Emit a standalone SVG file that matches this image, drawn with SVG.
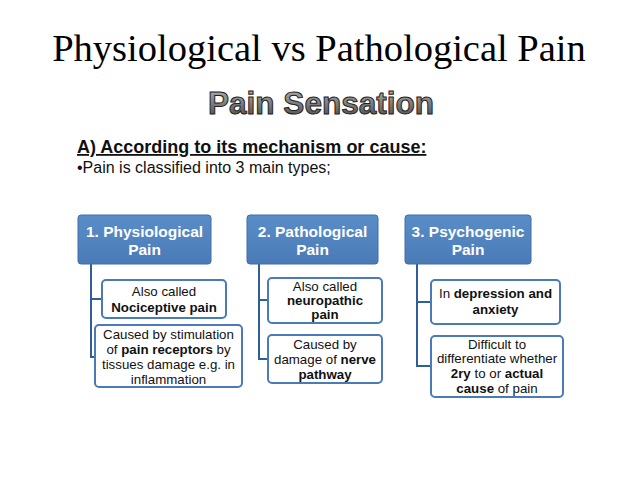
<svg xmlns="http://www.w3.org/2000/svg" width="638" height="478" viewBox="0 0 638 478">
<defs>
<linearGradient id="g" x1="0" y1="0" x2="0" y2="1"><stop offset="0" stop-color="#bbb"/><stop offset="1" stop-color="#444"/></linearGradient>
<linearGradient id="b" x1="0" y1="0" x2="0" y2="1"><stop offset="0" stop-color="#5a8dc8"/><stop offset="1" stop-color="#4a7bb7"/></linearGradient>
</defs>
<style>
.h{fill:url(#b);stroke:#3f6fa8;stroke-width:1}
.ht{font-family:"Liberation Sans",Arial,sans-serif;font-size:15.5px;font-weight:bold;fill:#fff;text-anchor:middle}
.c{fill:#fff;stroke:#4a7bb7;stroke-width:2}
.ct{font-family:"Liberation Sans",Arial,sans-serif;font-size:13.3px;fill:#111;text-anchor:middle}
.ln{fill:none;stroke:#2f5f96;stroke-width:2}
</style>
<rect width="638" height="478" fill="#fff"/>
<text x="319" y="61" font-family="'Liberation Serif',serif" font-size="38.5" text-anchor="middle">Physiological vs Pathological Pain</text>
<text x="321" y="114" font-family="'Liberation Sans',Arial,sans-serif" font-size="31.5" font-weight="bold" text-anchor="middle" fill="url(#g)" stroke="#222" stroke-width="1">Pain Sensation</text>
<text x="77" y="153" font-family="'Liberation Sans',Arial,sans-serif" font-size="18" font-weight="bold" text-decoration="underline" fill="#111">A) According to its mechanism or cause:</text>
<text x="77" y="173" font-family="'Liberation Sans',Arial,sans-serif" font-size="16" fill="#111">•Pain is classified into 3 main types;</text>
<g id="connectors">
<path class="ln" d="M91 264V357H95M91 299H102"/>
<path class="ln" d="M259 264V359H268M259 300H268"/>
<path class="ln" d="M417 264V366H431M417 302H431"/>
</g>
<g id="n1"><rect class="h" x="78" y="215" width="133" height="49" rx="3"/><text class="ht" x="144.5" y="237">1. Physiological</text><text class="ht" x="144.5" y="255">Pain</text></g>
<g id="n2"><rect class="h" x="247" y="215" width="131" height="49" rx="3"/><text class="ht" x="312.5" y="237">2. Pathological</text><text class="ht" x="312.5" y="255">Pain</text></g>
<g id="n3"><rect class="h" x="405" y="215" width="126" height="49" rx="3"/><text class="ht" x="468" y="237">3. Psychogenic</text><text class="ht" x="468" y="255">Pain</text></g>
<g id="n1a"><rect class="c" x="102" y="280" width="124" height="38" rx="4"/><text class="ct" x="164" y="296">Also called</text><text class="ct" x="164" y="312" font-weight="bold">Nociceptive pain</text></g>
<g id="n1b"><rect class="c" x="95" y="325" width="147" height="62" rx="4"/><text class="ct" x="168.5" y="339">Caused by stimulation</text><text class="ct" x="168.5" y="354">of <tspan font-weight="bold">pain receptors</tspan> by</text><text class="ct" x="168.5" y="369">tissues damage e.g. in</text><text class="ct" x="168.5" y="384">inflammation</text></g>
<g id="n2a"><rect class="c" x="268" y="278" width="114" height="45" rx="4"/><text class="ct" x="325" y="291">Also called</text><text class="ct" x="325" y="305" font-weight="bold">neuropathic</text><text class="ct" x="325" y="319" font-weight="bold">pain</text></g>
<g id="n2b"><rect class="c" x="268" y="335" width="114" height="48" rx="4"/><text class="ct" x="325" y="349">Caused by</text><text class="ct" x="325" y="364">damage of <tspan font-weight="bold">nerve</tspan></text><text class="ct" x="325" y="379" font-weight="bold">pathway</text></g>
<g id="n3a"><rect class="c" x="431" y="280" width="129" height="44" rx="4"/><text class="ct" x="495.5" y="298">In <tspan font-weight="bold">depression and</tspan></text><text class="ct" x="495.5" y="314" font-weight="bold">anxiety</text></g>
<g id="n3b"><rect class="c" x="431" y="336" width="132" height="61" rx="4"/><text class="ct" x="497" y="349">Difficult to</text><text class="ct" x="497" y="363">differentiate whether</text><text class="ct" x="497" y="378"><tspan font-weight="bold">2ry</tspan>  to or <tspan font-weight="bold">actual</tspan></text><text class="ct" x="497" y="393"><tspan font-weight="bold">cause</tspan> of pain</text></g>
</svg>
